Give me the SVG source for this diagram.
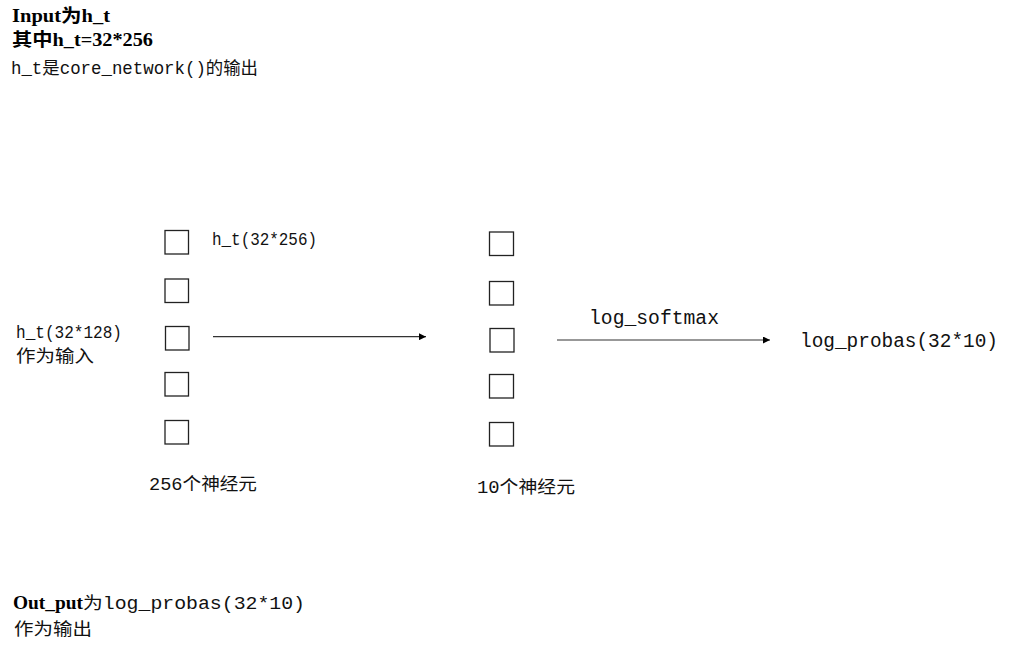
<svg xmlns="http://www.w3.org/2000/svg" width="1016" height="649" viewBox="0 0 1016 649">
<style>
.t{font-family:"Liberation Mono","Noto Sans CJK SC",monospace;font-size:17.5px;fill:#111}
.b{font-family:"Liberation Serif","Noto Sans CJK SC",serif;font-size:18px;font-weight:bold;fill:#000}
.big{font-size:20px}
.box{fill:#fff;stroke:#222;stroke-width:1.3}
.edge{stroke:#333;stroke-width:1.2;fill:none}
</style>
<defs>
<marker id="ah" viewBox="0 0 10 10" refX="10" refY="5" markerWidth="7" markerHeight="7" markerUnits="userSpaceOnUse" orient="auto">
<path d="M0,0 L10,5 L0,10 Z" fill="#000"/>
</marker>
</defs>
<rect width="1016" height="649" fill="#fff"/>
<g id="header">
<text class="b" x="12" y="22" textLength="98" lengthAdjust="spacingAndGlyphs">Input为h_t</text>
<text class="b" x="12" y="46" textLength="141" lengthAdjust="spacingAndGlyphs">其中h_t=32*256</text>
<text class="t" x="11" y="74" textLength="247" lengthAdjust="spacingAndGlyphs">h_t是core_network()的输出</text>
</g>
<g id="input-label">
<text class="t" x="16" y="338" textLength="106" lengthAdjust="spacingAndGlyphs">h_t(32*128)</text>
<text class="t" x="16" y="362" textLength="78" lengthAdjust="spacingAndGlyphs">作为输入</text>
</g>
<g id="layer256">
<rect class="box" x="165" y="230.5" width="23.5" height="23.5"/>
<rect class="box" x="165" y="279" width="23.5" height="23.5"/>
<rect class="box" x="165.5" y="326.5" width="23.5" height="23.5"/>
<rect class="box" x="165" y="372.5" width="23.5" height="23.5"/>
<rect class="box" x="165" y="420.5" width="23.5" height="23.5"/>
<text class="t" x="212" y="245" textLength="105" lengthAdjust="spacingAndGlyphs">h_t(32*256)</text>
<text class="t" x="149" y="490" textLength="108" lengthAdjust="spacingAndGlyphs">256个神经元</text>
</g>
<g id="layer10">
<rect class="box" x="489.5" y="232" width="24" height="23.5"/>
<rect class="box" x="489.5" y="281.5" width="24" height="23.5"/>
<rect class="box" x="490" y="328.5" width="24" height="23.5"/>
<rect class="box" x="489.5" y="374.5" width="24" height="23.5"/>
<rect class="box" x="489.5" y="422.5" width="24" height="23.5"/>
<text class="t" x="477" y="493" textLength="98" lengthAdjust="spacingAndGlyphs">10个神经元</text>
</g>
<g id="output-node">
<text class="t big" x="800" y="347" textLength="198" lengthAdjust="spacingAndGlyphs">log_probas(32*10)</text>
</g>
<g id="connectors">
<line class="edge" x1="213" y1="336.7" x2="426" y2="336.7" marker-end="url(#ah)"/>
<line class="edge" x1="557" y1="340" x2="770" y2="340" marker-end="url(#ah)"/>
<text class="t big" x="589" y="324" textLength="130" lengthAdjust="spacingAndGlyphs">log_softmax</text>
</g>
<g id="footer">
<text x="13" y="609"><tspan class="b" textLength="70" lengthAdjust="spacingAndGlyphs">Out_put</tspan><tspan class="t" font-size="19.5" x="83" textLength="222" lengthAdjust="spacingAndGlyphs">为log_probas(32*10)</tspan></text>
<text class="t" x="14" y="635" textLength="78" lengthAdjust="spacingAndGlyphs">作为输出</text>
</g>
</svg>
